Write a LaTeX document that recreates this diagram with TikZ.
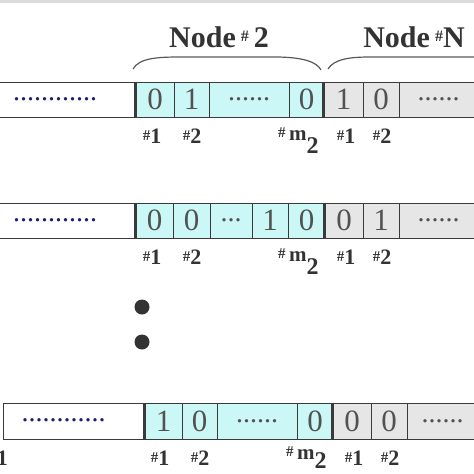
\documentclass[tikz,border=0pt]{standalone}
\usepackage{fontspec}
\setmainfont{Liberation Serif}
\definecolor{cellcyan}{HTML}{CCF7F7}
\definecolor{cellgray}{HTML}{E6E6E6}
\definecolor{linegray}{HTML}{3A3A3A}
\definecolor{txtgray}{HTML}{333333}
\definecolor{dotnavy}{HTML}{1C1C70}
\newcommand\myhash{\raisebox{3pt}{\fontsize{15}{15}\selectfont\#}}
\begin{document}
\begin{tikzpicture}[x=1pt,y=-1pt,
  cell/.style={draw=linegray, line width=1pt, minimum height=35pt, inner sep=0pt,
    font=\fontsize{31}{31}\selectfont, text=black!68},
  wcell/.style={cell, fill=white},
  ccell/.style={cell, fill=cellcyan},
  gcell/.style={cell, fill=cellgray},
  dotsw/.style={font=\fontsize{28}{28}\selectfont, text=dotnavy, inner sep=0pt},
  lab/.style={font=\bfseries\fontsize{22}{22}\selectfont, text=txtgray, inner sep=0pt, anchor=base},
  mlab/.style={font=\bfseries\fontsize{21}{21}\selectfont, text=txtgray, inner sep=0pt, anchor=base west},
  thickb/.style={draw=linegray, line width=2.2pt},
  brace/.style={draw=black!65, line width=1.2pt},
  title/.style={font=\bfseries\fontsize{30}{30}\selectfont, text=txtgray, inner sep=0pt},
  bigdot/.style={circle, fill=txtgray, minimum size=15pt, inner sep=0pt}
]
\useasboundingbox (0,0) rectangle (474,474);
\clip (0,0) rectangle (474,474);
\fill[black!14] (0,0) rectangle (474,2.5);

% ---------- titles and braces
\node[title] (t2) at (219,37) {Node\,{\fontsize{16}{16}\selectfont\raisebox{6pt}{\#}}\,2};
\node[title] (tN) at (414,37) {Node\,{\fontsize{16}{16}\selectfont\raisebox{6pt}{\#}}N};
\coordinate (b2l) at (133,69);
\coordinate (b2r) at (321,70);
\coordinate (bNl) at (328,69);
\coordinate (bNr) at (480,57);
\draw[brace] (b2l) .. controls (139,58) and (158,57) .. (180,57) -- (275,57) .. controls (303,57) and (317,62) .. (b2r);
\draw[brace] (bNl) .. controls (334,59) and (350,57) .. (370,57) -- (bNr);

% ---------- row 1
\node[wcell, minimum width=150pt] (r1w) at (61,99.5) {};
\node[dotsw] (r1wd) at (55,99) {............};
\node[ccell, minimum width=38pt] (r1a) at (155,99.5) {0};
\node[ccell, minimum width=35pt] (r1b) at (191.5,99.5) {1};
\node[ccell, minimum width=80pt] (r1c) at (249,99.5) {\fontsize{28}{28}\selectfont ......};
\node[ccell, minimum width=35pt] (r1d) at (306.5,99.5) {0};
\node[gcell, minimum width=39pt] (r1e) at (343.5,99.5) {1};
\node[gcell, minimum width=36pt] (r1f) at (381,99.5) {0};
\node[gcell, minimum width=79pt] (r1g) at (438.5,99.5) {\fontsize{28}{28}\selectfont ......};
\draw[thickb] (r1a.north west) -- (r1a.south west);
\draw[thickb] (r1e.north west) -- (r1e.south west);
\node[lab] (l1a) at (152,143) {\myhash1};
\node[lab] (l1b) at (192,143) {\myhash2};
\node[mlab] (l1m) at (278,140) {\myhash\,m\raisebox{-13pt}{\fontsize{24}{24}\selectfont 2}};
\node[lab] (l1e) at (346,143) {\myhash1};
\node[lab] (l1f) at (382,143) {\myhash2};

% ---------- row 2
\node[wcell, minimum width=150pt] (r2w) at (61,220.5) {};
\node[dotsw] (r2wd) at (55,220) {............};
\node[ccell, minimum width=37pt] (r2a) at (154.5,220.5) {0};
\node[ccell, minimum width=37pt] (r2b) at (191.5,220.5) {0};
\node[ccell, minimum width=42pt] (r2c) at (231,220.5) {\fontsize{28}{28}\selectfont ...};
\node[ccell, minimum width=36pt] (r2d) at (270,220.5) {1};
\node[ccell, minimum width=37pt] (r2e) at (306.5,220.5) {0};
\node[gcell, minimum width=38pt] (r2f) at (344,220.5) {0};
\node[gcell, minimum width=36pt] (r2g) at (381,220.5) {1};
\node[gcell, minimum width=79pt] (r2h) at (438.5,220.5) {\fontsize{28}{28}\selectfont ......};
\draw[thickb] (r2a.north west) -- (r2a.south west);
\draw[thickb] (r2f.north west) -- (r2f.south west);
\node[lab] (l2a) at (152,264) {\myhash1};
\node[lab] (l2b) at (192,264) {\myhash2};
\node[mlab] (l2m) at (278,261) {\myhash\,m\raisebox{-13pt}{\fontsize{24}{24}\selectfont 2}};
\node[lab] (l2e) at (346,264) {\myhash1};
\node[lab] (l2f) at (382,264) {\myhash2};

% ---------- vertical dots
\node[bigdot] (d1) at (142,307) {};
\node[bigdot] (d2) at (142,342) {};

% ---------- row 3
\node[wcell, minimum width=142pt, minimum height=36pt] (r3w) at (74,421) {};
\node[dotsw] (r3wd) at (63.5,420.5) {............};
\node[ccell, minimum width=37pt, minimum height=36pt] (r3a) at (163.5,421) {1};
\node[ccell, minimum width=35pt, minimum height=36pt] (r3b) at (199.5,421) {0};
\node[ccell, minimum width=80pt, minimum height=36pt] (r3c) at (257,421) {\fontsize{28}{28}\selectfont ......};
\node[ccell, minimum width=36pt, minimum height=36pt] (r3d) at (315,421) {0};
\node[gcell, minimum width=38pt, minimum height=36pt] (r3e) at (352,421) {0};
\node[gcell, minimum width=36pt, minimum height=36pt] (r3f) at (389,421) {0};
\node[gcell, minimum width=71pt, minimum height=36pt] (r3g) at (442.5,421) {\fontsize{28}{28}\selectfont ......};
\draw[thickb] (r3a.north west) -- (r3a.south west);
\draw[thickb] (r3e.north west) -- (r3e.south west);
\node[lab, anchor=base east] (l3w) at (8,465) {\myhash1};
\node[lab] (l3a) at (160,465) {\myhash1};
\node[lab] (l3b) at (200,465) {\myhash2};
\node[mlab] (l3m) at (286,459) {\myhash\,m\raisebox{-9pt}{\fontsize{24}{24}\selectfont 2}};
\node[lab] (l3e) at (354,465) {\myhash1};
\node[lab] (l3f) at (390,465) {\myhash2};
\end{tikzpicture}
\end{document}
